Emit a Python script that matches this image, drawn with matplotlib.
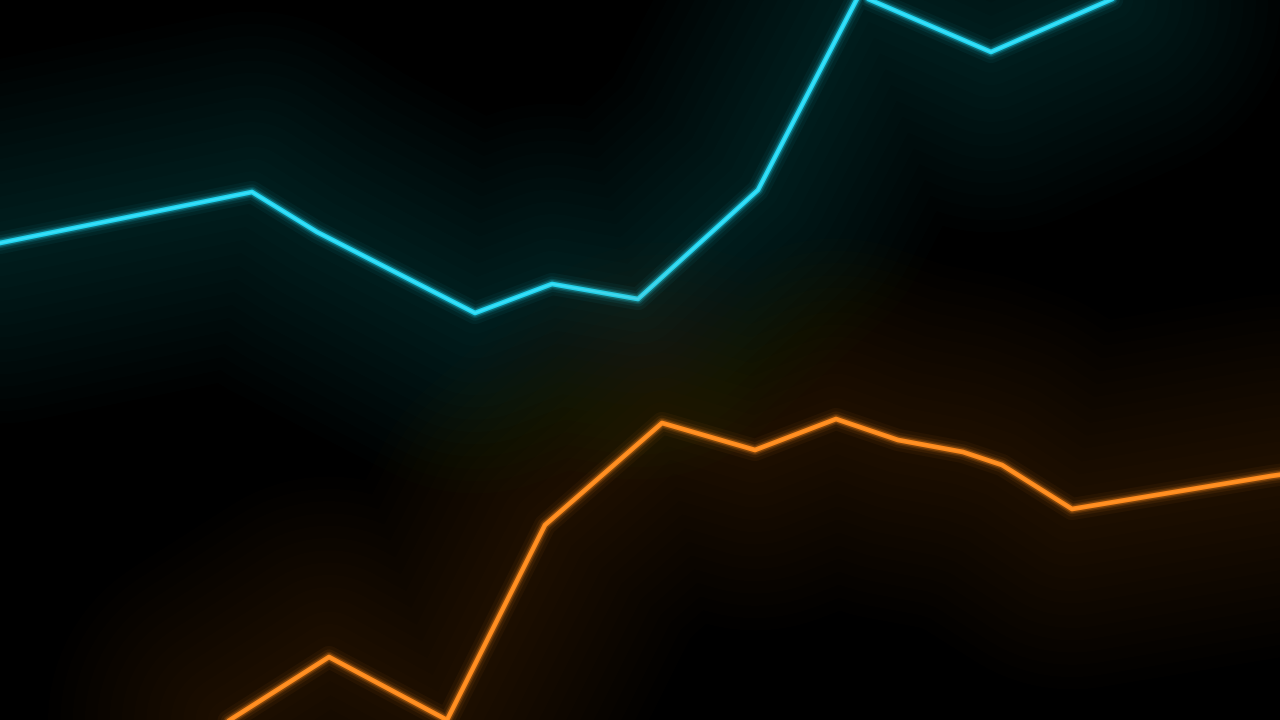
import matplotlib
matplotlib.use("Agg")
import matplotlib.pyplot as plt
import numpy as np

# Cyan series (x position, value)
cyan_x = [-20, 0, 252, 317, 475, 552, 638, 758, 859, 991, 1110, 1170]
cyan_y = [481, 477, 528, 488, 407, 436, 421, 530, 725, 668, 720, 745]

# Orange series
orange_x = [200, 233, 329, 447, 545, 662, 755, 836, 898, 963, 1002, 1072, 1271, 1300]
orange_y = [-20, 2, 63, 0, 195, 297, 270, 301, 280, 268, 255, 211, 244, 248]

cyan_col = "#1fd6f2"
orange_col = "#ff8a1c"

fig = plt.figure(figsize=(12.8, 7.2), dpi=100, facecolor="black")
ax = fig.add_axes([0, 0, 1, 1])
ax.set_facecolor("black")
ax.set_xlim(0, 1280)
ax.set_ylim(0, 720)
ax.axis("off")

def neon(x, y, col, haze_col, haze_alpha, core):
    # broad haze
    for lw in np.linspace(260, 30, 14):
        ax.plot(x, y, color=haze_col, lw=lw, alpha=haze_alpha,
                solid_joinstyle="round", solid_capstyle="round")
    # tight glow
    for lw, a in [(16, 0.05), (11, 0.08), (7.5, 0.14), (5.5, 0.25)]:
        ax.plot(x, y, color=col, lw=lw, alpha=a,
                solid_joinstyle="round", solid_capstyle="round")
    ax.plot(x, y, color=col, lw=3.4, solid_joinstyle="round",
            solid_capstyle="round")
    ax.plot(x, y, color=core, lw=1.4, alpha=0.5, solid_joinstyle="round",
            solid_capstyle="round")

neon(cyan_x, cyan_y, cyan_col, "#10c8e8", 0.010, "#5ae8ff")
neon(orange_x, orange_y, orange_col, "#ff6a00", 0.010, "#ff9a30")

fig.savefig("out.png", dpi=100, facecolor="black")
